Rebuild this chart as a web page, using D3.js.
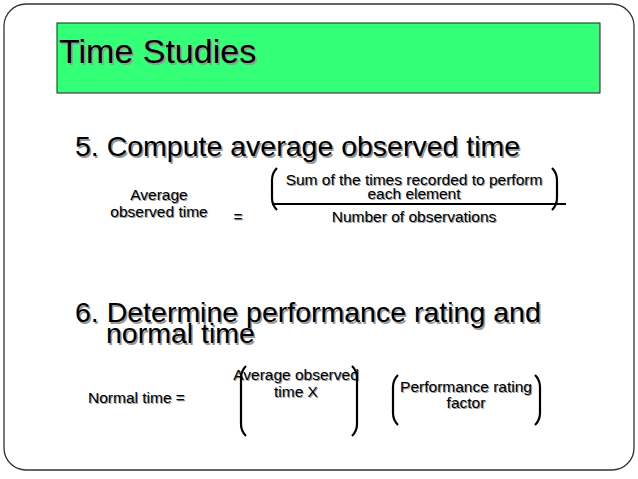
<!DOCTYPE html><html><head><meta charset="utf-8"><script src="https://d3js.org/d3.v7.min.js"></script>
<style>body{margin:0;background:#fff}</style></head><body><script>
const title = "Time Studies";
const headings = [
  {t:"5. Compute average observed time", x:75, y:156},
  {t:"6. Determine performance rating and", x:75, y:322},
  {t:"normal time", x:106, y:343}
];
const labels = [
  {t:"Average", x:159, y:200, a:"middle"},
  {t:"observed time", x:159, y:217, a:"middle"},
  {t:"=", x:238, y:222, a:"middle"},
  {t:"Sum of the times recorded to perform", x:414, y:185, a:"middle"},
  {t:"each element", x:414, y:199, a:"middle"},
  {t:"Number of observations", x:414, y:222, a:"middle"},
  {t:"Normal time =", x:88, y:403, a:"start"},
  {t:"Average observed", x:296, y:380, a:"middle"},
  {t:"time X", x:296, y:397, a:"middle"},
  {t:"Performance rating", x:466, y:392, a:"middle"},
  {t:"factor", x:466, y:408, a:"middle"}
];
const brackets = [
  {x1:272, x2:557, y1:168, y2:210},
  {x1:241, x2:357, y1:366, y2:436},
  {x1:393, x2:540, y1:375, y2:425}
];
const svg = d3.select("body").append("svg").attr("width",638).attr("height",479);
svg.append("rect").attr("x",4).attr("y",4).attr("width",630).attr("height",466).attr("rx",22)
  .attr("fill","#fff").attr("stroke","#333").attr("stroke-width",1.3);
svg.append("rect").attr("x",57).attr("y",23).attr("width",543).attr("height",70)
  .attr("fill","#33ff77").attr("stroke","#222").attr("stroke-width",1);
function shadowText(t,x,y,size,anchor,off){
  const g=svg.append("g").attr("font-family","Liberation Sans, Arial, sans-serif").attr("font-size",size).attr("text-anchor",anchor);
  g.append("text").attr("x",x+off).attr("y",y+off).attr("fill","#999").text(t);
  g.append("text").attr("x",x).attr("y",y).attr("fill","#000").text(t);
}
shadowText(title,59,63,34,"start",2);
headings.forEach(h=>shadowText(h.t,h.x,h.y,28.5,"start",1.5));
labels.forEach(l=>shadowText(l.t,l.x,l.y,15.5,l.a,1));
svg.append("line").attr("x1",272).attr("x2",566).attr("y1",204).attr("y2",204).attr("stroke","#000").attr("stroke-width",2);
brackets.forEach(b=>{
  const c=5;
  svg.append("path").attr("d",`M${b.x1+c},${b.y1} Q${b.x1},${b.y1+5} ${b.x1},${b.y1+12} L${b.x1},${b.y2-12} Q${b.x1},${b.y2-5} ${b.x1+c},${b.y2}`)
    .attr("fill","none").attr("stroke","#000").attr("stroke-width",2.2);
  svg.append("path").attr("d",`M${b.x2-c},${b.y1} Q${b.x2},${b.y1+5} ${b.x2},${b.y1+12} L${b.x2},${b.y2-12} Q${b.x2},${b.y2-5} ${b.x2-c},${b.y2}`)
    .attr("fill","none").attr("stroke","#000").attr("stroke-width",2.2);
});
</script></body></html>
